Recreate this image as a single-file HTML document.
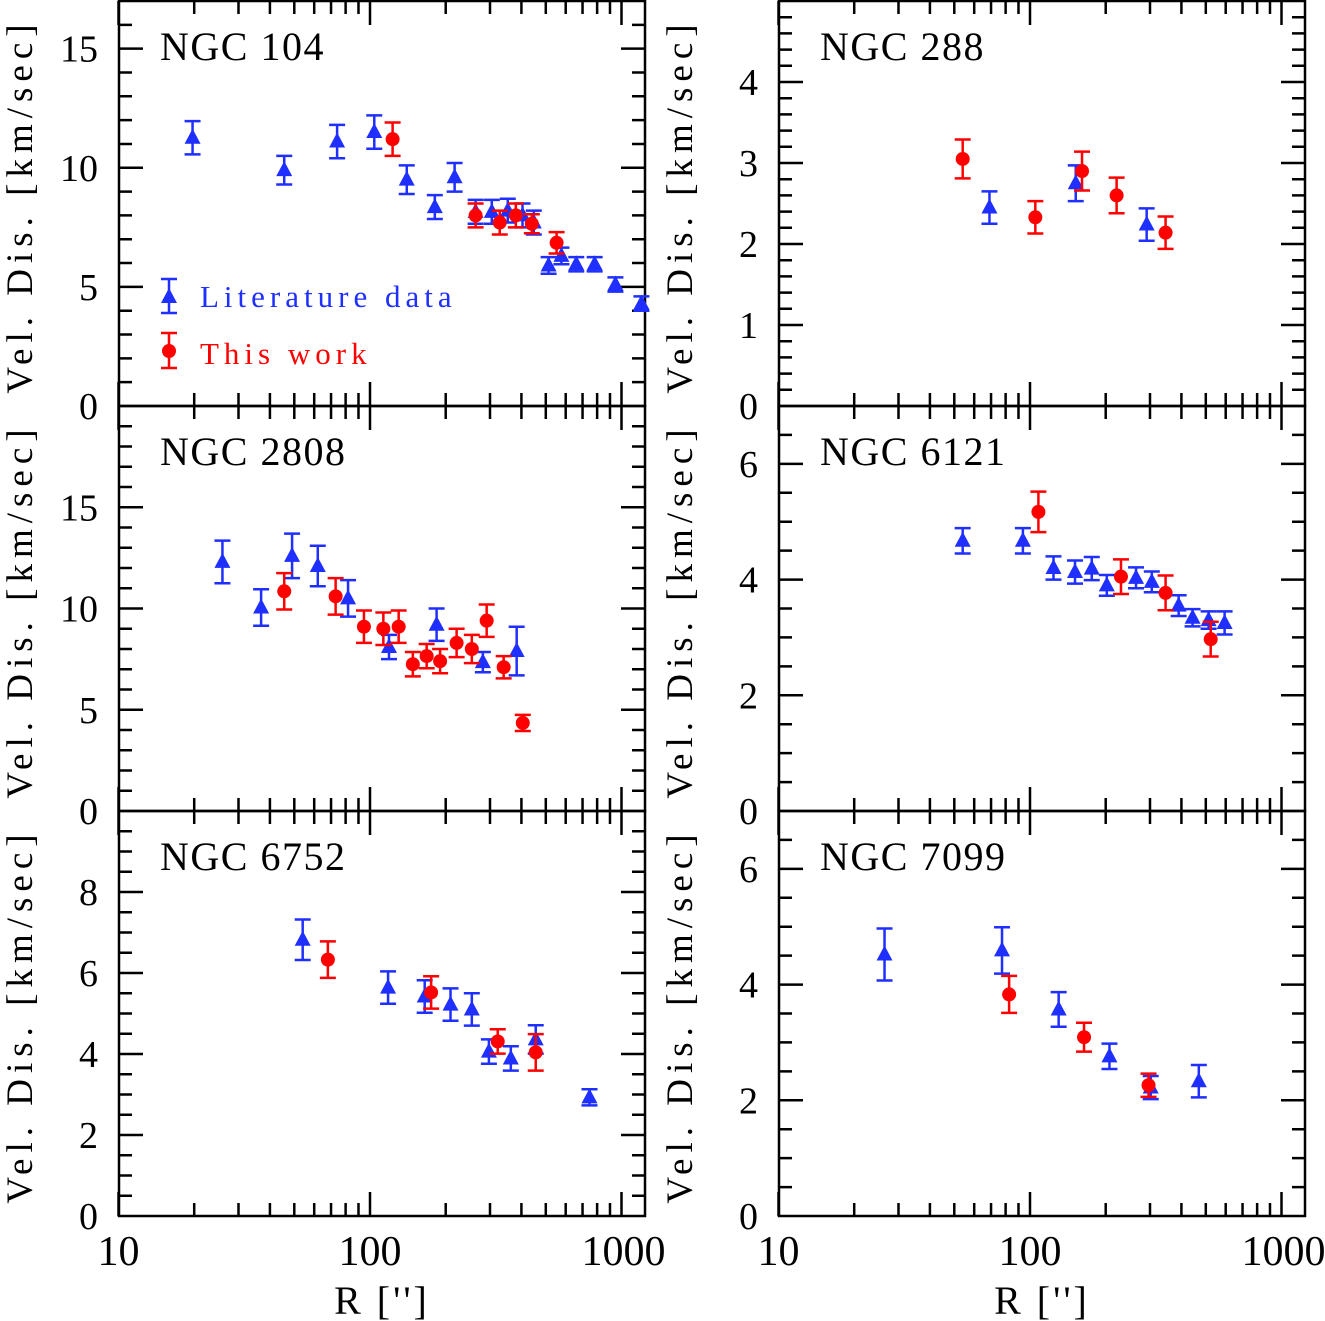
<!DOCTYPE html>
<html><head><meta charset="utf-8"><style>
body{margin:0;background:#fff}
svg{display:block}
text{font-family:"Liberation Serif",serif}
</style></head><body>
<svg id="chart" width="1325" height="1321" viewBox="0 0 1325 1321" xmlns="http://www.w3.org/2000/svg"></svg>
<script>
// ---- data ----
const panelNames = ["NGC 104","NGC 288","NGC 2808","NGC 6121","NGC 6752","NGC 7099"];
const yMax = [17,5,20,7,10,7];
const yMajor = [5,1,5,2,2,2];
const yMinor = [1,0.2,1,0.5,0.5,0.5];
const xTickLabels = ["10","100","1000"];

const lit104R = [19.7,45.6,74,104,140,181,217,263,305,353,404,448,513,577,661,782,946,1200];
const lit104V = [11.26,9.9,11.1,11.5,9.5,8.35,9.6,8.15,8.15,8.2,8.0,7.7,5.9,6.3,5.95,5.95,5.1,4.3];
const lit104E = [0.7,0.6,0.7,0.7,0.6,0.5,0.6,0.5,0.5,0.5,0.5,0.5,0.35,0.35,0.3,0.3,0.3,0.3];
const tw104R = [123,263,328,380,440,552];
const tw104V = [11.2,8.0,7.7,8.0,7.65,6.85];
const tw104E = [0.7,0.5,0.5,0.5,0.4,0.45];

const lit288R = [69,152,291];
const lit288V = [2.45,2.75,2.24];
const lit288E = [0.2,0.22,0.2];
const tw288R = [54,105,161,221,346];
const tw288V = [3.05,2.33,2.9,2.6,2.14];
const tw288E = [0.24,0.2,0.24,0.22,0.2];

const lit2808R = [25.9,36.9,49,62,81.8,119,184,281,383];
const lit2808V = [12.3,10.05,12.6,12.1,10.5,8.1,9.2,7.35,7.9];
const lit2808E = [1.05,0.9,1.1,1.0,0.9,0.6,0.8,0.5,1.2];
const tw2808R = [45.6,73,94.6,113,130,148,168,190,221,254,291,340,405];
const tw2808V = [10.85,10.6,9.1,9.0,9.1,7.25,7.65,7.4,8.3,8.0,9.4,7.1,4.35];
const tw2808E = [0.9,0.9,0.8,0.8,0.8,0.6,0.6,0.6,0.7,0.7,0.8,0.55,0.4];

const lit6121R = [54,93.7,124,151,176,202,264,305,390,443,513,594];
const lit6121V = [4.67,4.67,4.2,4.13,4.19,3.9,4.03,3.96,3.55,3.34,3.3,3.25];
const lit6121E = [0.22,0.22,0.2,0.2,0.2,0.18,0.18,0.18,0.18,0.15,0.15,0.2];
const tw6121R = [108,230,346,523];
const tw6121V = [5.17,4.05,3.77,2.97];
const tw6121E = [0.35,0.3,0.3,0.3];

const lit6752R = [54,118,165,209,254,297,363,456,746];
const lit6752V = [6.82,5.64,5.42,5.22,5.1,4.06,3.89,4.36,2.93];
const lit6752E = [0.5,0.4,0.4,0.4,0.4,0.3,0.3,0.35,0.2];
const tw6752R = [68,175,322,456];
const tw6752V = [6.33,5.52,4.31,4.04];
const tw6752E = [0.45,0.4,0.3,0.45];

const lit7099R = [26.4,77.4,130,207,302,469];
const lit7099V = [4.52,4.59,3.57,2.76,2.22,2.33];
const lit7099E = [0.45,0.4,0.3,0.22,0.2,0.28];
const tw7099R = [82.6,164,296];
const tw7099V = [3.83,3.09,2.26];
const tw7099E = [0.32,0.25,0.2];

const litSets = [[lit104R,lit104V,lit104E],[lit288R,lit288V,lit288E],[lit2808R,lit2808V,lit2808E],[lit6121R,lit6121V,lit6121E],[lit6752R,lit6752V,lit6752E],[lit7099R,lit7099V,lit7099E]];
const twSets = [[tw104R,tw104V,tw104E],[tw288R,tw288V,tw288E],[tw2808R,tw2808V,tw2808E],[tw6121R,tw6121V,tw6121E],[tw6752R,tw6752V,tw6752E],[tw7099R,tw7099V,tw7099E]];

// ---- layout ----
const NS="http://www.w3.org/2000/svg";
const svg=document.getElementById('chart');
const BLUE="#1f2fff", RED="#ff0000";
const colX=[119,779], PW=526, rowY=[1,406,811], PH=405;
const DEC=251.5;
function mk(tag,attrs,parent){const e=document.createElementNS(NS,tag);for(const k in attrs)e.setAttribute(k,attrs[k]);(parent||svg).appendChild(e);return e;}

for(let p=0;p<6;p++){
  const c=p%2, r=Math.floor(p/2);
  const x0=colX[c], y0=rowY[r], yb=y0+PH;
  const g=mk('g',{});
  
  
  const xs=v=>x0-0.5+DEC*(Math.log10(v)-1);
  const ys=v=>yb-(v/yMax[p])*PH;
  const fr=mk('rect',{x:x0,y:y0,width:PW,height:PH,fill:'none',stroke:'#000','stroke-width':2.5},g);
  
  
  let d='';
  for(let dec=10;dec<=1000;dec*=10){
    for(let m=1;m<10;m++){
      const v=dec*m; const px=xs(v); if(px>x0+PW)break;
      const L=(m===1)?24:13;
      d+=`M${px},${yb}v${-L}M${px},${y0}v${L}`;
    }
  }
  const nMin=Math.round(yMax[p]/yMinor[p]);
  for(let i=1;i<nMin;i++){
    const v=i*yMinor[p]; const py=ys(v);
    const isMaj=Math.abs(v/yMajor[p]-Math.round(v/yMajor[p]))<1e-6;
    const L=isMaj?24:13;
    d+=`M${x0},${py}h${L}M${x0+PW},${py}h${-L}`;
  }
  const tk=mk('path',{d:d,stroke:'#000','stroke-width':2.5,fill:'none'},g);
  
  
  for(let v=0;v<yMax[p]-1e-6;v+=yMajor[p]){
    const t=mk('text',{x:x0-21,y:ys(v)+13,'text-anchor':'end','font-size':38},g);
    t.textContent=String(v);
    
    
  }
  const yt=mk('text',{transform:`translate(${x0-87},${y0+205}) rotate(-90)`,'text-anchor':'middle','font-size':37,'letter-spacing':6},g);
  yt.textContent='Vel. Dis. [km/sec]';
  
  
  const pt=mk('text',{x:x0+41,y:y0+59,'font-size':40,'letter-spacing':1.5},g);
  pt.textContent=panelNames[p];
  
  
  if(r===2){
    for(let i=0;i<xTickLabels.length;i++){
      const t=mk('text',{x:xs(Number(xTickLabels[i]))+(i===2?2:0),y:1265,'text-anchor':'middle','font-size':42},g);
      t.textContent=xTickLabels[i];
      
      
    }
    const xt=mk('text',{x:x0+263,y:1314,'text-anchor':'middle','font-size':40,'letter-spacing':3},g);
    xt.textContent="R ['']";
    
    
  }
  const cid='clip'+p;
  const cp=mk('clipPath',{id:cid},g);
  mk('rect',{x:x0,y:y0-2,width:PW+12,height:PH+4},cp);
  const dg=mk('g',{'clip-path':`url(#${cid})`},g);
  function draw(set,color,shape,name){
    const [R,V,E]=set;
    for(let i=0;i<R.length;i++){
      const px=xs(R[i]), py=ys(V[i]), t=ys(V[i]+E[i]), b=ys(V[i]-E[i]);
      const pg=mk('g',{},dg);
      
      
      mk('path',{d:`M${px},${t}V${b}M${px-8},${t}h16M${px-8},${b}h16`,stroke:color,'stroke-width':2.5,fill:'none'},pg);
      if(shape==='tri') mk('path',{d:`M${px},${py-9}L${px+8},${py+6}L${px-8},${py+6}Z`,fill:color},pg);
      else mk('circle',{cx:px,cy:py,r:7,fill:color},pg);
    }
  }
  draw(litSets[p],BLUE,'tri','literature-point');
  draw(twSets[p],RED,'circ','this-work-point');
  if(p===0){
    const lg=mk('g',{},g);
    
    
    const e1=mk('g',{},lg);
    
    
    mk('path',{d:'M169,279V313M161,279h16M161,313h16',stroke:BLUE,'stroke-width':2.5,fill:'none'},e1);
    mk('path',{d:'M169,288L177,303L161,303Z',fill:BLUE},e1);
    const l1=mk('text',{x:200,y:307,'font-size':31,'letter-spacing':5,fill:BLUE},e1);
    l1.textContent='Literature data';
    const e2=mk('g',{},lg);
    
    
    mk('path',{d:'M169,333V368M161,333h16M161,368h16',stroke:RED,'stroke-width':2.5,fill:'none'},e2);
    mk('circle',{cx:169,cy:351,r:7,fill:RED},e2);
    const l2=mk('text',{x:200,y:364,'font-size':31,'letter-spacing':5,fill:RED},e2);
    l2.textContent='This work';
  }
}
</script>
</body></html>
